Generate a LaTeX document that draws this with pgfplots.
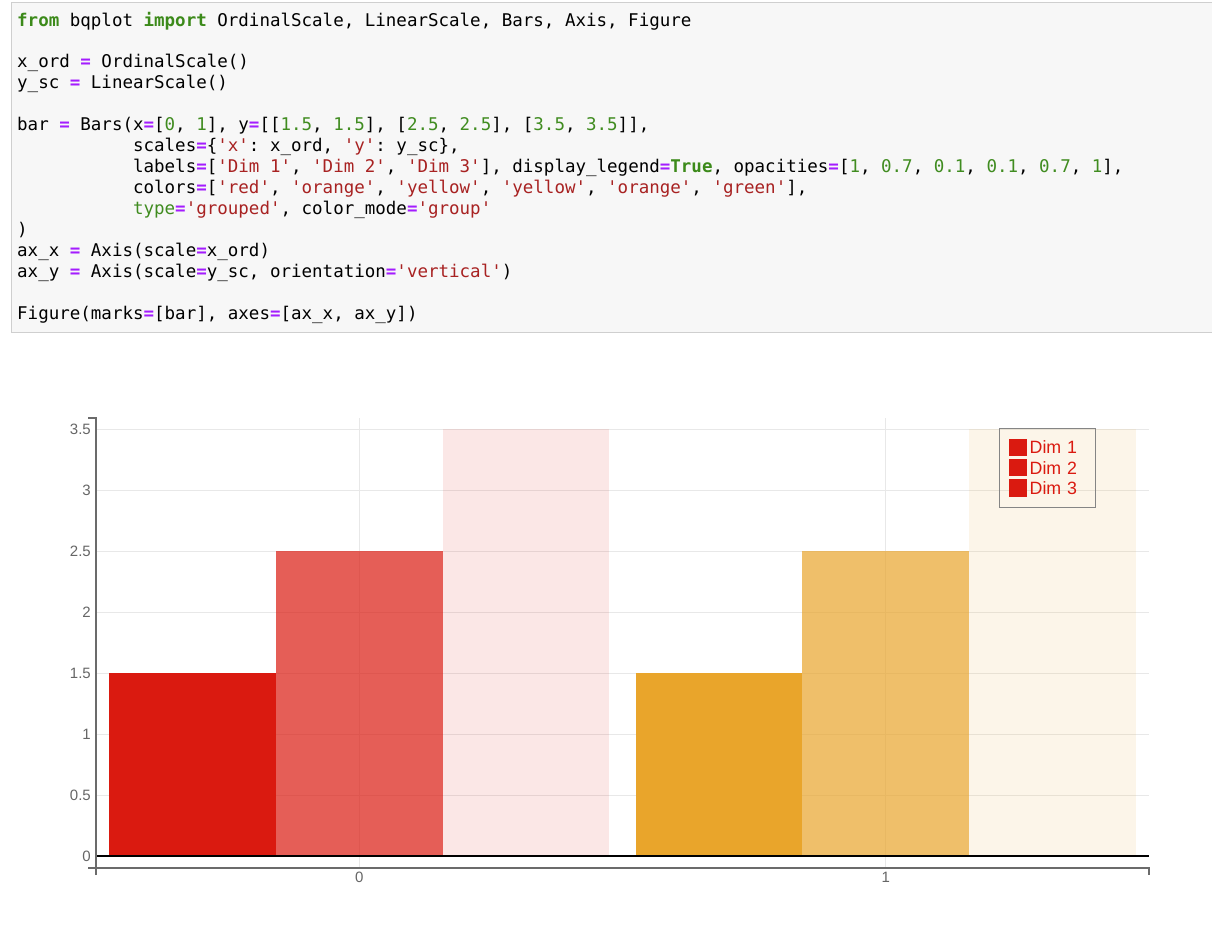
\documentclass[border=0pt]{standalone}
\usepackage{fontspec}
\setmainfont{Liberation Sans}
\setmonofont{DejaVu Sans Mono}
\usepackage{pgfplots}
\pgfplotsset{compat=1.18}
\definecolor{redc}{HTML}{DA1A10}
\definecolor{orangec}{HTML}{E9A52B}
\definecolor{gridgray}{HTML}{E8E8E8}
\definecolor{tickgray}{HTML}{666666}
\definecolor{axgray}{HTML}{6B6B6B}
\definecolor{legendgray}{HTML}{858585}
\definecolor{codebg}{HTML}{F7F7F7}
\definecolor{codeborder}{HTML}{CFCFCF}
\definecolor{kwgreen}{HTML}{3C8A1A}
\definecolor{numgreen}{HTML}{408C20}
\definecolor{strred}{HTML}{A82222}
\definecolor{oppurple}{HTML}{A41CFF}
\newcommand\codefont{\ttfamily\fontsize{17.5}{21}\selectfont}
\newcommand\ticklabelfont{\fontsize{15}{18}\selectfont}
\newcommand\legendfont{\fontsize{17.8}{21}\selectfont}
\newcommand{\kw}[1]{\textcolor{kwgreen}{\bfseries #1}}
\newcommand{\op}[1]{\textcolor{oppurple}{\bfseries #1}}
\newcommand{\str}[1]{\textcolor{strred}{#1}}
\newcommand{\num}[1]{\textcolor{numgreen}{#1}}
\newcommand{\bi}[1]{\textcolor{numgreen}{#1}}
\newcommand{\ind}{\phantom{xxxxxxxxxxx}}
\begin{document}
\begin{tikzpicture}[x=1pt,y=1pt]
\fill[white] (0,0) rectangle (1212,-935);
\useasboundingbox (0,0) rectangle (1212,-935);
\draw[codeborder, fill=codebg, line width=1pt] (11.5,-2.5) rectangle (1230,-332.5);
\begin{scope}[every node/.style={anchor=base west, inner sep=0pt, font=\codefont}]
\node at (17,-26) {\kw{from} bqplot \kw{import} OrdinalScale, LinearScale, Bars, Axis, Figure};
\node at (17,-67.86) {x\_ord \op{=} OrdinalScale()};
\node at (17,-88.79) {y\_sc \op{=} LinearScale()};
\node at (17,-130.65) {bar \op{=} Bars(x\op{=}[\num{0}, \num{1}], y\op{=}[[\num{1.5}, \num{1.5}], [\num{2.5}, \num{2.5}], [\num{3.5}, \num{3.5}]],};
\node at (17,-151.58) {\ind scales\op{=}\{\str{'x'}: x\_ord, \str{'y'}: y\_sc\},};
\node at (17,-172.51) {\ind labels\op{=}[\str{'Dim 1'}, \str{'Dim 2'}, \str{'Dim 3'}], display\_legend\op{=}\kw{True}, opacities\op{=}[\num{1}, \num{0.7}, \num{0.1}, \num{0.1}, \num{0.7}, \num{1}],};
\node at (17,-193.44) {\ind colors\op{=}[\str{'red'}, \str{'orange'}, \str{'yellow'}, \str{'yellow'}, \str{'orange'}, \str{'green'}],};
\node at (17,-214.37) {\ind \bi{type}\op{=}\str{'grouped'}, color\_mode\op{=}\str{'group'}};
\node at (17,-235.30) {)};
\node at (17,-256.23) {ax\_x \op{=} Axis(scale\op{=}x\_ord)};
\node at (17,-277.16) {ax\_y \op{=} Axis(scale\op{=}y\_sc, orientation\op{=}\str{'vertical'})};
\node at (17,-319.02) {Figure(marks\op{=}[bar], axes\op{=}[ax\_x, ax\_y])};
\end{scope}
\begin{axis}[
  at={(96pt,-868pt)}, anchor=south west,
  scale only axis, width=1053pt, height=450pt,
  xmin=-0.5, xmax=1.5, ymin=-0.0984, ymax=3.5902,
  axis line style={draw=none},
  xtick={0,1}, ytick={0,0.5,...,3.5},
  major tick length=0pt, tick style={draw=none},
  grid=major, grid style={draw=gridgray, line width=1pt},
  tick label style={font=\ticklabelfont, text=tickgray},
  yticklabel style={inner sep=0pt, xshift=-5pt, anchor=east},
  xticklabel style={inner sep=0pt, yshift=-4pt, anchor=north},
  /pgf/number format/assume math mode=true,
  clip=false,
  legend style={at={(0.8573,0.9784)}, anchor=north west, draw=legendgray, line width=1.3pt, fill=none,
    inner xsep=10pt, inner ysep=10.5pt, row sep=3pt, column sep=3pt, font=\legendfont, text=redc,
    cells={anchor=west},
    nodes={inner sep=0pt, text height=12.5pt, text depth=0pt, text width=56pt}},
]
\addplot[ybar, bar width=0.3167, bar shift=0pt, fill=redc, draw=none, forget plot] coordinates {(-0.3167,1.5)};
\addplot[ybar, bar width=0.3167, bar shift=0pt, fill=redc, fill opacity=0.7, draw=none, forget plot] coordinates {(0,2.5)};
\addplot[ybar, bar width=0.3167, bar shift=0pt, fill=redc, fill opacity=0.1, draw=none, forget plot] coordinates {(0.3167,3.5)};
\addplot[ybar, bar width=0.3167, bar shift=0pt, fill=orangec, draw=none, forget plot] coordinates {(0.6833,1.5)};
\addplot[ybar, bar width=0.3167, bar shift=0pt, fill=orangec, fill opacity=0.7, draw=none, forget plot] coordinates {(1,2.5)};
\addplot[ybar, bar width=0.3167, bar shift=0pt, fill=orangec, fill opacity=0.1, draw=none, forget plot] coordinates {(1.3167,3.5)};
\draw[black, line width=1.5pt] (axis cs:-0.5,0) -- (axis cs:1.5,0);
\addlegendimage{legend image code/.code={\fill[redc] (0pt,-8pt) rectangle (16pt,8pt);}}
\addlegendentry{Dim 1}
\addlegendimage{legend image code/.code={\fill[redc] (0pt,-8pt) rectangle (16pt,8pt);}}
\addlegendentry{Dim 2}
\addlegendimage{legend image code/.code={\fill[redc] (0pt,-8pt) rectangle (16pt,8pt);}}
\addlegendentry{Dim 3}
\end{axis}
\draw[axgray, line width=1.2pt] (88,-418) -- (96,-418) -- (96,-868) -- (88,-868);
\draw[axgray, line width=1.2pt] (96,-875) -- (96,-868) -- (1149,-868) -- (1149,-875);
\end{tikzpicture}
\end{document}
